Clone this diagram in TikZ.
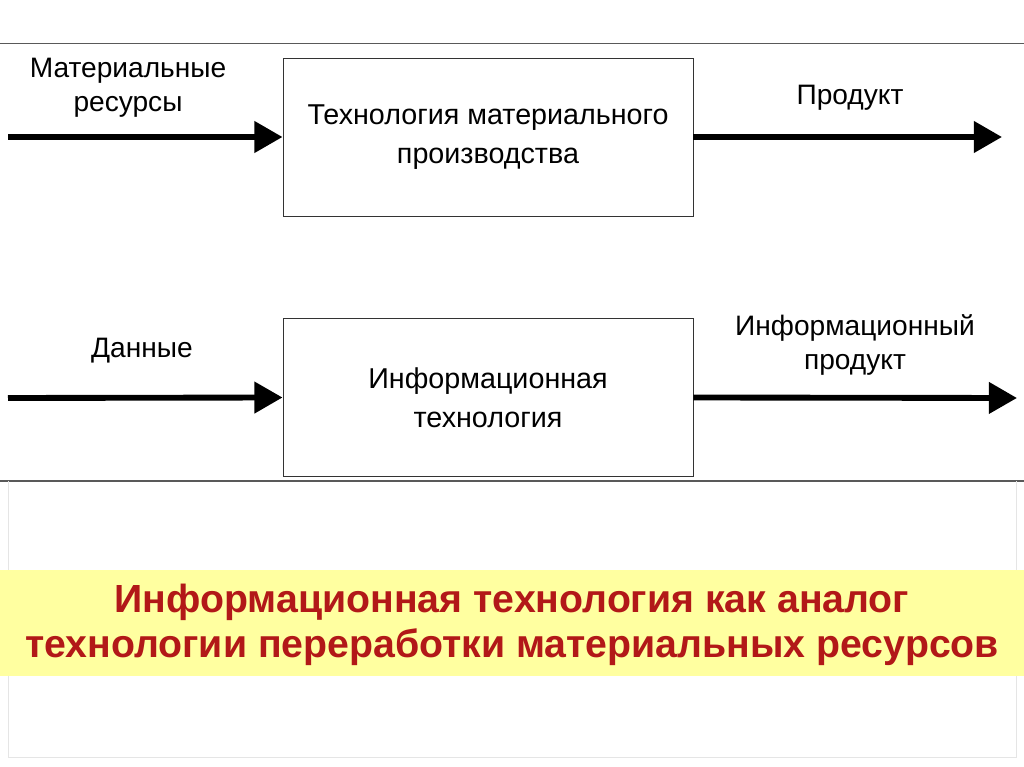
\documentclass[tikz,border=0pt]{standalone}
\usepackage{fontspec}
\setmainfont{Liberation Sans}
\usetikzlibrary{positioning,arrows.meta}
\definecolor{titlered}{RGB}{178,24,24}
\definecolor{bandyellow}{RGB}{255,255,160}
\tikzset{
  procbox/.style={draw=black!80,line width=0.8pt,minimum width=12.3cm,minimum height=4.74cm,align=center,font=\fontsize{24.5}{33}\selectfont},
  flowlbl/.style={align=center,font=\fontsize{24}{29}\selectfont},
  flow/.style={line width=5pt,-{Triangle[length=24pt,width=26pt]}}
}
\begin{document}
\begin{tikzpicture}[x=0.03cm,y=-0.03cm]
\useasboundingbox (0,0) rectangle (1024,767);
% Rahmen
\draw[gray!70!black,line width=0.8pt] (0,43) -- (1024,43);
\draw[gray!70!black,line width=1pt] (0,481) -- (1024,481);
\draw[gray!20,line width=0.6pt] (8,481) -- (8,757) -- (1016,757) -- (1016,481);
% Blöcke
\node[procbox] (matbox) at (488,137) {Технология материального\\производства};
\node[procbox] (infobox) at (488,397.5) {Информационная\\технология};
\coordinate (matin) at (8,137);
\coordinate (matout) at (1002,137);
\coordinate (infoin) at (8,398);
\coordinate (infoout) at (1017,398);
% Pfeile
\draw[flow] (matin) -- (matbox.west);
\draw[flow] (matbox.east) -- (matout);
\draw[flow] (infoin) -- (infobox.west);
\draw[flow] (infobox.east) -- (infoout);
% Beschriftungen
\node[flowlbl] (matres) at (128,88) {Материальные\\ресурсы};
\node[flowlbl] (prod) at (850,98) {Продукт};
\node[flowlbl] (data) at (142,351) {Данные};
\node[flowlbl] (infoprod) at (855,345) {Информационный\\продукт};
% Titel
\fill[bandyellow] (0,570) rectangle (1024,676);
\node[align=center,text=titlered,font=\bfseries\fontsize{33.5}{39}\selectfont] (title) at (512,625) {Информационная технология как аналог\\технологии переработки материальных ресурсов};
\end{tikzpicture}
\end{document}
